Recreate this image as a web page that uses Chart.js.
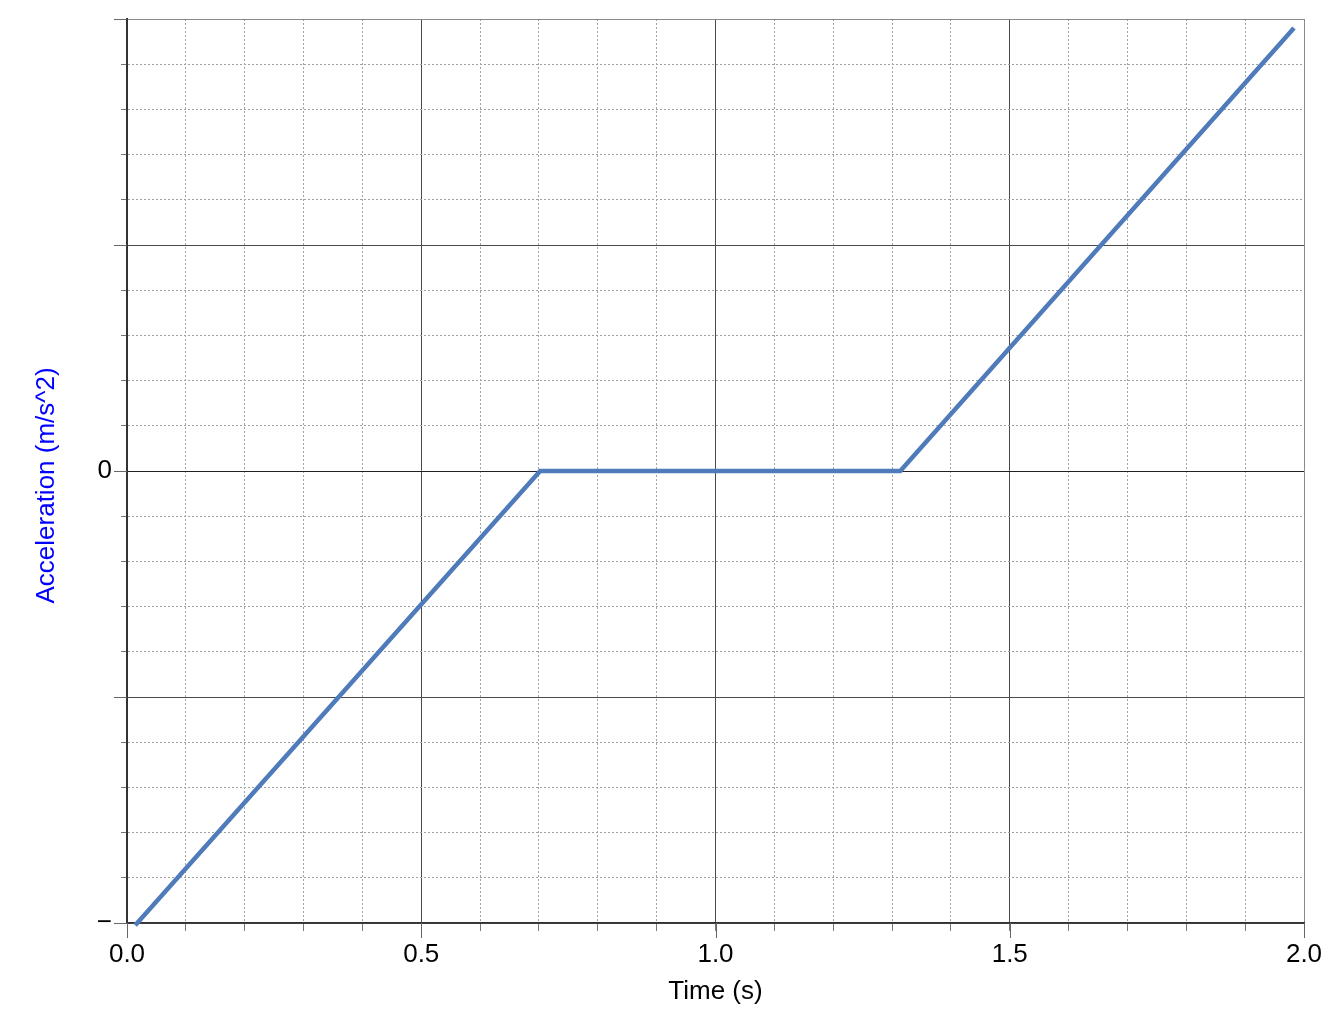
<!DOCTYPE html>
<html>
<head>
<meta charset="utf-8">
<script src="https://cdn.jsdelivr.net/npm/chart.js@4/dist/chart.umd.min.js"></script>
<style>
html,body{margin:0;padding:0;background:#fff;}
#wrap{width:1334px;height:1010px;}
</style>
</head>
<body>
<div id="wrap"><canvas id="c" width="1334" height="1010"></canvas></div>
<script>
// Data
const timeValues = [0.014, 0.702, 1.314, 1.983];
const accelValues = [-2.01, 0, 0, 1.96];
const xMajorTicks = [0, 0.5, 1.0, 1.5, 2.0];
const yMajorTicks = [-2, -1, 0, 1, 2];
const yTickLabels = {"0": "0", "-2": "\u2212"};
const xTitle = "Time (s)";
const yTitle = "Acceleration (m/s^2)    ";

const FONT = "'Liberation Sans', Arial, sans-serif";
const isMult = (v, step) => Math.abs(v / step - Math.round(v / step)) < 1e-6;

const points = timeValues.map((t, i) => ({x: t, y: accelValues[i]}));

const majorTickPlugin = {
  id: 'majorTicks',
  afterDraw(chart) {
    const {ctx, scales: {x, y}} = chart;
    ctx.save();
    ctx.strokeStyle = '#666';
    ctx.lineWidth = 1;
    ctx.beginPath();
    xMajorTicks.forEach(v => {
      const px = Math.round(x.getPixelForValue(v)) + 0.5;
      ctx.moveTo(px, x.top);
      ctx.lineTo(px, x.top + 15);
    });
    yMajorTicks.forEach(v => {
      const py = Math.round(y.getPixelForValue(v)) + 0.5;
      ctx.moveTo(y.right - 13, py);
      ctx.lineTo(y.right, py);
    });
    ctx.stroke();
    ctx.restore();
  }
};

new Chart(document.getElementById('c'), {
  type: 'scatter',
  data: {
    datasets: [{
      data: points,
      showLine: true,
      borderColor: 'rgb(79,123,186)',
      backgroundColor: 'rgb(79,123,186)',
      borderWidth: 4.5,
      pointRadius: 0,
      pointHoverRadius: 0,
      tension: 0,
      clip: false
    }]
  },
  options: {
    responsive: false,
    animation: false,
    devicePixelRatio: 1,
    layout: {padding: {top: 19, right: 30, left: 0, bottom: 0}},
    plugins: {legend: {display: false}, tooltip: {enabled: false}},
    scales: {
      x: {
        type: 'linear',
        min: 0, max: 2,
        afterFit(scale) { scale.height = 87; scale.paddingLeft = 0; scale.paddingRight = 0; },
        ticks: {
          stepSize: 0.1,
          autoSkip: false,
          maxRotation: 0,
          padding: 8,
          color: '#000',
          font: {family: FONT, size: 26},
          callback: v => isMult(v, 0.5) ? v.toFixed(1) : ''
        },
        grid: {
          drawTicks: true,
          tickLength: 8,
          tickColor: '#777',
          tickBorderDash: [],
          lineWidth: 1,
          color: c => {
            if (!c.tick) return '#999';
            const v = c.tick.value;
            if (Math.abs(v - 2) < 1e-6) return '#8a8a8a';
            return isMult(v, 0.5) ? '#4a4a4a' : '#a0a0a0';
          }
        },
        border: {
          display: true,
          color: '#333',
          width: 1.5,
          dash: c => (c.tick && !isMult(c.tick.value, 0.5)) ? [2, 2] : []
        },
        title: {
          display: true,
          text: xTitle,
          color: '#000',
          font: {family: FONT, size: 26},
          padding: {top: 0, bottom: 3}
        }
      },
      y: {
        type: 'linear',
        min: -2, max: 2,
        afterFit(scale) { scale.width = 127; scale.paddingTop = 0; scale.paddingBottom = 0; },
        ticks: {
          stepSize: 0.2,
          autoSkip: false,
          padding: 9,
          color: '#000',
          font: {family: FONT, size: 26},
          callback: v => {
            const k = String(Math.round(v * 10) / 10);
            return yTickLabels[k] !== undefined ? yTickLabels[k] : '';
          }
        },
        grid: {
          drawTicks: true,
          tickLength: 6,
          tickColor: '#777',
          tickBorderDash: [],
          lineWidth: 1,
          color: c => {
            if (!c.tick) return '#999';
            const v = c.tick.value;
            if (Math.abs(v - 2) < 1e-6) return '#8a8a8a';
            if (Math.abs(v) < 1e-6) return '#222';
            return isMult(v, 1) ? '#4a4a4a' : '#a0a0a0';
          }
        },
        border: {
          display: true,
          color: '#333',
          width: 2,
          dash: c => (c.tick && !isMult(c.tick.value, 1)) ? [2, 2] : []
        },
        title: {
          display: true,
          text: yTitle,
          color: '#0000ff',
          font: {family: FONT, size: 26},
          padding: {top: 31, bottom: 0}
        }
      }
    }
  },
  plugins: [majorTickPlugin]
});
</script>
</body>
</html>
